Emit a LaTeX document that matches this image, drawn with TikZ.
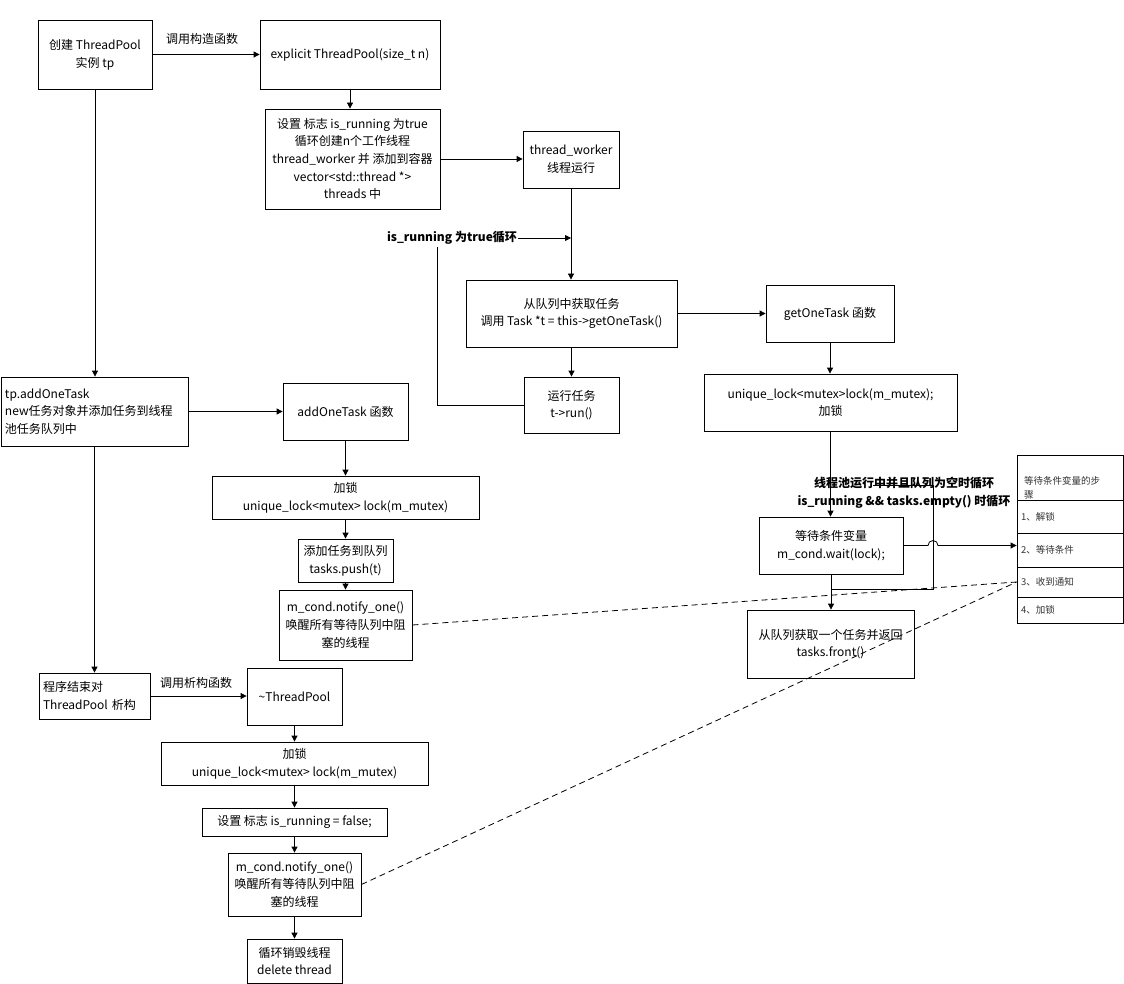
\documentclass[tikz,border=0pt]{standalone}
\usepackage{fontspec}
\setmainfont{Noto Sans CJK SC}
\usetikzlibrary{arrows.meta}
\newcommand\fsmain{\fontsize{12}{17.7}\selectfont}
\newcommand\fstab{\fontsize{9.5}{14}\selectfont}
\begin{document}
\begin{tikzpicture}[x=1pt,y=-1pt,
  box/.style={draw, line width=0.8pt, inner sep=2pt, align=center, font=\fsmain},
  tabrow/.style={draw, line width=0.8pt, minimum width=106pt, inner sep=0pt, font=\fstab, text=black!80},
  arr/.style={line width=0.8pt, -{Triangle[length=6pt,width=6pt]}},
  ln/.style={line width=0.8pt},
  dsh/.style={line width=0.8pt, dash pattern=on 6pt off 4pt},
  lbl/.style={font=\fsmain, inner sep=1pt},
  blbl/.style={font=\fsmain\bfseries, inner sep=1pt, align=center}]
\useasboundingbox (0,0) rectangle (1124,984);

% nodes
\node[box, minimum width=114pt, minimum height=69pt] (A) at (95,54.5) {创建 ThreadPool\\实例 tp};
\node[box, minimum width=180pt, minimum height=69pt] (B) at (350,54.5) {explicit ThreadPool(size\_t n)};
\node[box, minimum width=175pt, minimum height=100pt] (C) at (352.5,159) {设置 标志 is\_running 为true\\循环创建n个工作线程\\thread\_worker 并 添加到容器\\vector<std::thread *>\\threads 中};
\node[box, minimum width=96pt, minimum height=57pt] (D) at (571,159.5) {thread\_worker\\线程运行};
\node[box, minimum width=211pt, minimum height=67pt] (E) at (571.5,313.5) {从队列中获取任务\\调用 Task *t = this->getOneTask()};
\node[box, minimum width=95pt, minimum height=56pt] (F) at (571.5,405) {运行任务\\t->run()};
\node[box, minimum width=128pt, minimum height=57pt] (G) at (830,313.5) {getOneTask 函数};
\node[box, minimum width=253pt, minimum height=57pt] (H) at (830.5,402.5) {unique\_lock<mutex>lock(m\_mutex);\\加锁};
\node[box, minimum width=144pt, minimum height=57pt] (I) at (831,545.5) {等待条件变量\\m\_cond.wait(lock);};
\node[box, minimum width=167pt, minimum height=68pt] (J) at (830.5,644) {从队列获取一个任务并返回\\tasks.front()};

\node[box, minimum width=187pt, minimum height=69pt, text width=179pt, align=left, inner sep=4pt] (L) at (94.5,411.5) {tp.addOneTask\\new任务对象并添加任务到线程\\池任务队列中};
\node[box, minimum width=125pt, minimum height=57pt] (M) at (345.5,411.5) {addOneTask 函数};
\node[box, minimum width=267pt, minimum height=43pt] (N) at (345.5,497.5) {加锁\\unique\_lock<mutex> lock(m\_mutex)};
\node[box, minimum width=95pt, minimum height=43pt] (O) at (345.5,560.5) {添加任务到队列\\tasks.push(t)};
\node[box, minimum width=133pt, minimum height=70pt] (P) at (345.5,625) {m\_cond.notify\_one()\\唤醒所有等待队列中阻\\塞的线程};

\node[box, minimum width=111pt, minimum height=46pt, text width=103pt, align=left, inner sep=4pt] (Q) at (94.5,696) {程序结束对\\ThreadPool 析构};
\node[box, minimum width=95pt, minimum height=57pt] (R) at (294.5,696.5) {\textasciitilde ThreadPool};
\node[box, minimum width=267pt, minimum height=43pt] (S) at (294.5,763.5) {加锁\\unique\_lock<mutex> lock(m\_mutex)};
\node[box, minimum width=185pt, minimum height=28pt] (T) at (294.5,822) {设置 标志 is\_running = false;};
\node[box, minimum width=133pt, minimum height=63pt] (U) at (294.5,884.5) {m\_cond.notify\_one()\\唤醒所有等待队列中阻\\塞的线程};
\node[box, minimum width=95pt, minimum height=44pt] (V) at (294.5,961) {循环销毁线程\\delete thread};

% table
\node[tabrow, minimum height=45pt] (K0) at (1070,477.5) {};
\node[tabrow, minimum height=33pt, text width=98pt, align=left] (K1) at (1070,516.5) {1、解锁};
\node[tabrow, minimum height=34pt, text width=98pt, align=left] (K2) at (1070,550) {2、等待条件};
\node[tabrow, minimum height=30pt, text width=98pt, align=left] (K3) at (1070,582) {3、收到通知};
\node[tabrow, minimum height=26pt, text width=98pt, align=left] (K4) at (1070,610) {4、加锁};
\node[font=\fstab, text=black!80, anchor=west, align=left, inner sep=0pt] (K0t) at (1024,488) {等待条件变量的步\\骤};

% labels
\node[lbl] (l1) at (202,39) {调用构造函数};
\node[lbl] (l2) at (196,683) {调用析构函数};
\node[blbl] (isr) at (452,238) {is\_running 为true循环};
\node[blbl] (wl) at (904,493) {线程池运行中并且队列为空时循环\\is\_running \&\& tasks.empty() 时循环};

% connectors
\draw[arr] (A.east) -- (A.east -| B.west);
\draw[arr] (B.south) -- (B.south |- C.north);
\draw[arr] (C.east) -- (C.east -| D.west);
\draw[arr] (D.south) -- (D.south |- E.north);
\draw[arr] (isr.east) -- (isr.east -| D.south);
\coordinate (loopx) at (437,247);
\draw[ln] (F.west) -| (loopx);
\draw[arr] (E.south) -- (E.south |- F.north);
\draw[arr] (E.east) -- (E.east -| G.west);
\draw[arr] (G.south) -- (G.south |- H.north);
\draw[arr] (H.south) -- (H.south |- I.north);
\draw[arr] (I.south) -- (I.south |- J.north);
\coordinate (wa) at (831,589);
\coordinate (wb) at (933,589);
\coordinate (wc) at (933,485);
\coordinate (wd) at (873,485);
\draw[ln] (wa) -- (wb) -- (wc) -- (wd);
\coordinate (h1) at (928,545.5);
\draw[arr] (I.east |- h1) -- (h1) arc[start angle=180,end angle=0,radius=5pt] -- (h1 -| K2.west);

\draw[arr] (A.south) -- (A.south |- L.north);
\draw[arr] (L.south) -- (L.south |- Q.north);
\draw[arr] (L.east) -- (L.east -| M.west);
\draw[arr] (M.south) -- (M.south |- N.north);
\draw[arr] (N.south) -- (N.south |- O.north);
\draw[arr] (O.south) -- (O.south |- P.north);
\draw[arr] (Q.east) -- (Q.east -| R.west);
\draw[arr] (R.south) -- (R.south |- S.north);
\draw[arr] (S.south) -- (S.south |- T.north);
\draw[arr] (T.south) -- (T.south |- U.north);
\draw[arr] (U.south) -- (U.south |- V.north);

\draw[dsh] (P.east) -- (K3.west);
\draw[dsh] (U.east) -- (K3.west);
\end{tikzpicture}
\end{document}
